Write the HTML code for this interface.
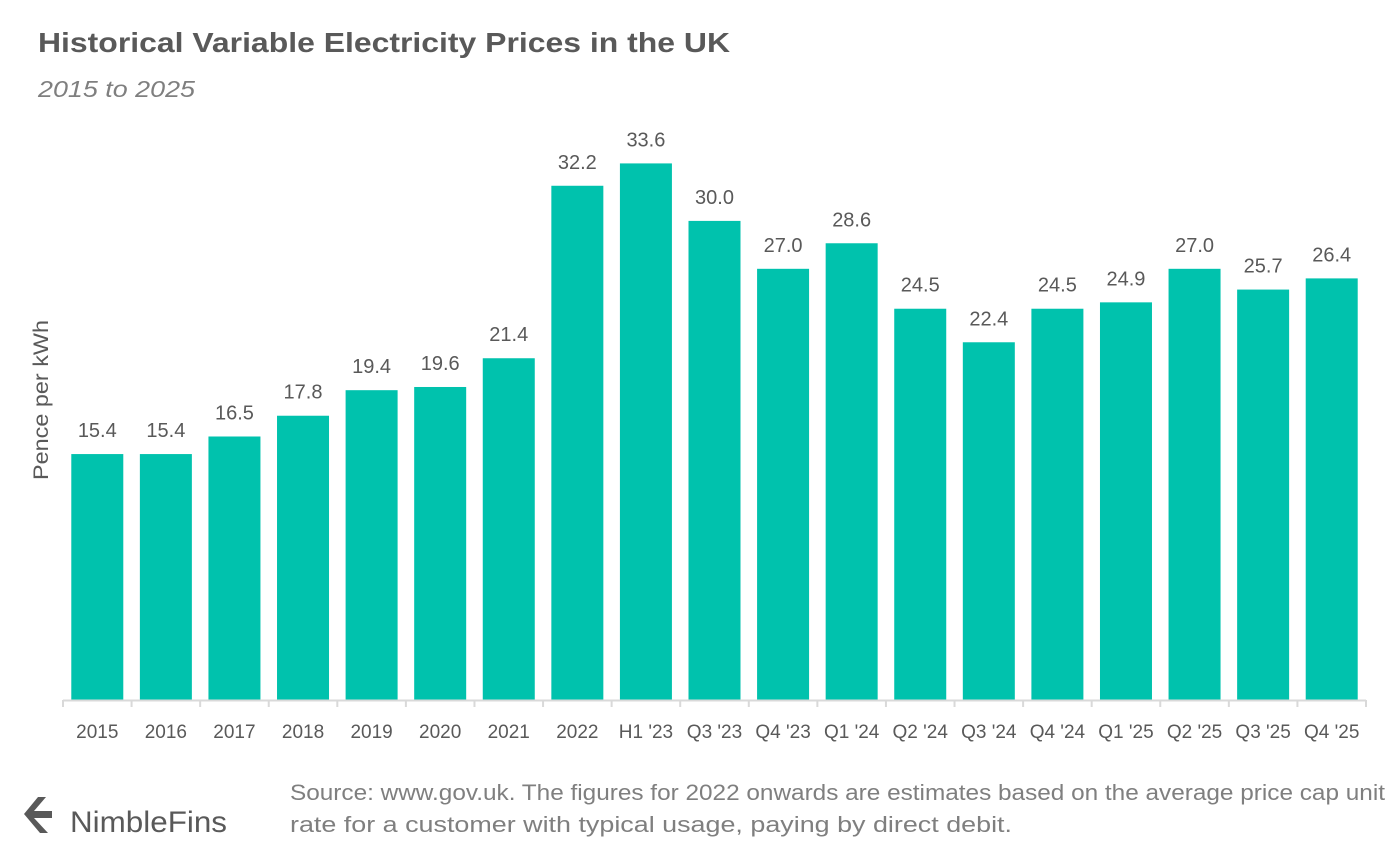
<!DOCTYPE html>
<html><head><meta charset="utf-8"><style>
body{margin:0;background:#fff;width:1400px;height:852px;overflow:hidden;font-family:"Liberation Sans",sans-serif}
svg text{font-family:"Liberation Sans",sans-serif}
</style></head><body>
<svg id="chart" width="1400" height="852">
<text x="38" y="52" font-size="28" font-weight="bold" fill="#595959" textLength="692" lengthAdjust="spacingAndGlyphs">Historical Variable Electricity Prices in the UK</text>
<text x="38" y="97" font-size="23" font-style="italic" fill="#7f7f7f" textLength="157" lengthAdjust="spacingAndGlyphs">2015 to 2025</text>
<text transform="translate(48,400) rotate(-90)" text-anchor="middle" font-size="21" fill="#595959" textLength="160" lengthAdjust="spacingAndGlyphs">Pence per kWh</text>
<g id="bars"></g>
<g id="axis"></g>
<g>
<path d="M24 814 L38 797 L46 797 L34 811 L52 811 L52 818 L34 818 L48 833 L40 833 Z" fill="#595959"/>
<text x="70" y="832" font-size="30" fill="#595959" textLength="157" lengthAdjust="spacingAndGlyphs">NimbleFins</text>
</g>
<text x="290" y="800" font-size="22" fill="#7f7f7f" textLength="1095" lengthAdjust="spacingAndGlyphs">Source: www.gov.uk. The figures for 2022 onwards are estimates based on the average price cap unit</text>
<text x="290" y="832" font-size="22" fill="#7f7f7f" textLength="722" lengthAdjust="spacingAndGlyphs">rate for a customer with typical usage, paying by direct debit.</text>
</svg>
<script>
const categories=["2015","2016","2017","2018","2019","2020","2021","2022","H1 '23","Q3 '23","Q4 '23","Q1 '24","Q2 '24","Q3 '24","Q4 '24","Q1 '25","Q2 '25","Q3 '25","Q4 '25"];
const values=[15.4,15.4,16.5,17.8,19.4,19.6,21.4,32.2,33.6,30.0,27.0,28.6,24.5,22.4,24.5,24.9,27.0,25.7,26.4];
const ns="http://www.w3.org/2000/svg";
const left=63,right=1366,base=700,ppu=15.97;
const step=(right-left)/categories.length,bw=52;
const xs=i=>left+i*step;
const ys=v=>base-v*ppu;
const bars=document.getElementById('bars'),axis=document.getElementById('axis');
function mk(t,a){const e=document.createElementNS(ns,t);for(const k in a)e.setAttribute(k,a[k]);return e;}
values.forEach((v,i)=>{
 const cx=xs(i)+step/2;
 const r=mk('rect',{x:cx-bw/2,y:ys(v),width:bw,height:base-ys(v),fill:'#00c2ad'});
 
 
 bars.appendChild(r);
 const t=mk('text',{x:cx,y:ys(v)-17,'text-anchor':'middle','font-size':'20',fill:'#595959'});
 t.textContent=v.toFixed(1);
 
 
 bars.appendChild(t);
 const l=mk('text',{x:cx,y:738,'text-anchor':'middle','font-size':'19',fill:'#595959'});
 l.textContent=categories[i];
 
 
 axis.appendChild(l);
});
axis.appendChild(mk('line',{x1:left,x2:right,y1:base+0.5,y2:base+0.5,stroke:'#d9d9d9','stroke-width':2}));
for(let i=0;i<=categories.length;i++){
 axis.appendChild(mk('line',{x1:xs(i),x2:xs(i),y1:base,y2:base+7,stroke:'#d9d9d9','stroke-width':2}));
}
</script>
</body></html>
